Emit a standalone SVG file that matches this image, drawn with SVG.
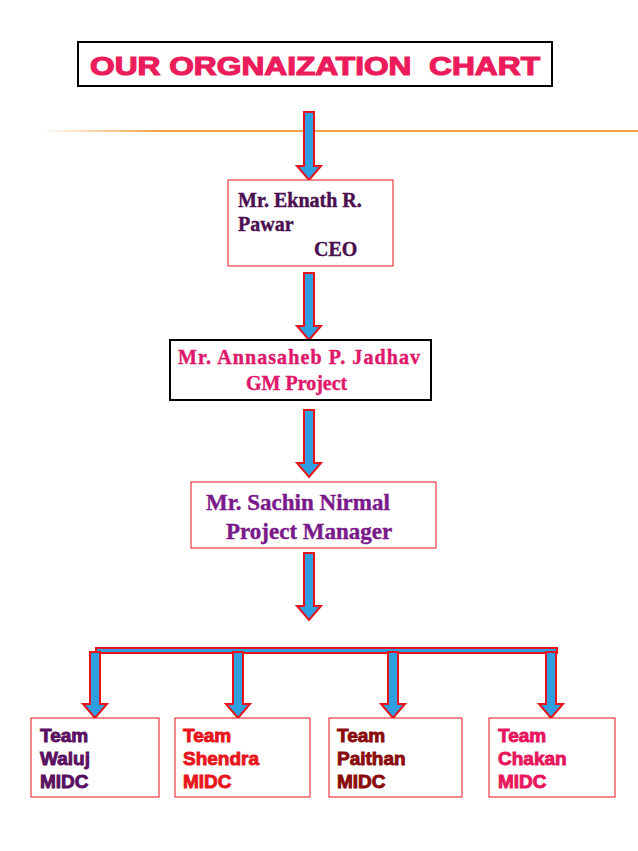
<svg xmlns="http://www.w3.org/2000/svg" width="638" height="851" viewBox="0 0 638 851">
<style>
.arr{fill:#2e9fe0;stroke:#e8141c;stroke-width:2;stroke-linejoin:miter}
.box{fill:#fff;stroke:#e8141c;stroke-width:1}
.n{font-family:"Liberation Serif",serif;font-weight:bold;font-size:20px;stroke-width:0.4}
.t{font-family:"Liberation Sans",Arial,sans-serif;font-weight:bold;font-size:19px;stroke-width:0.9}
</style>
<defs><linearGradient id="og" x1="0" x2="1"><stop offset="0" stop-color="#f4a340" stop-opacity="0"/><stop offset="0.2" stop-color="#f4a340"/><stop offset="1" stop-color="#f4a340"/></linearGradient></defs>
<rect width="638" height="851" fill="#fff"/>
<rect x="40" y="130" width="598" height="2" fill="url(#og)"/>
<g id="title"><rect x="78" y="42" width="474" height="44" fill="#fff" stroke="#000" stroke-width="2"/>
<text x="90" y="75" xml:space="preserve" textLength="450" lengthAdjust="spacingAndGlyphs" font-family="Liberation Sans,Arial,sans-serif" font-weight="bold" font-size="26" fill="#ec1c5c" stroke="#ec1c5c" stroke-width="1.2">OUR ORGNAIZATION  CHART</text></g>
<g id="connectors">
<path class="arr" d="M304,112H314V166H321L309,180L297,166H304Z"/>
<path class="arr" d="M304,273H314V326H321L309,340L297,326H304Z"/>
<path class="arr" d="M304,410H314V463H321L309,477L297,463H304Z"/>
<path class="arr" d="M304,553H314V606H321L309,620L297,606H304Z"/>
<rect x="96" y="648" width="461" height="5" fill="#2e9fe0" stroke="#e8141c" stroke-width="2"/>
<path class="arr" d="M90,652H100V704H107L95,718L83,704H90Z"/>
<path class="arr" d="M233,652H243V704H250L238,718L226,704H233Z"/>
<path class="arr" d="M388,652H398V704H405L393,718L381,704H388Z"/>
<path class="arr" d="M546,652H556V704H563L551,718L539,704H546Z"/>
</g>
<g id="ceo"><rect class="box" x="228" y="180" width="165" height="86"/>
<g class="n" fill="#4a1050" stroke="#4a1050"><text x="238" y="207">Mr. Eknath R.</text><text x="238" y="231">Pawar</text><text x="314" y="256">CEO</text></g></g>
<g id="gm"><rect x="170" y="340" width="261" height="60" fill="#fff" stroke="#000" stroke-width="2"/>
<g class="n" fill="#e0186c" stroke="#e0186c"><text x="178" y="364" textLength="242">Mr. Annasaheb P. Jadhav</text><text x="246" y="390">GM Project</text></g></g>
<g id="pm"><rect class="box" x="191" y="482" width="245" height="66"/>
<g class="n" fill="#7a1a8a" stroke="#7a1a8a"><text x="206" y="510" font-size="23">Mr. Sachin Nirmal</text><text x="226" y="539" font-size="23">Project Manager</text></g></g>
<g id="waluj"><rect class="box" x="31" y="718" width="128" height="79"/>
<g class="t" fill="#5a1060" stroke="#5a1060"><text x="40" y="742">Team</text><text x="40" y="765">Waluj</text><text x="40" y="788">MIDC</text></g></g>
<g id="shendra"><rect class="box" x="175" y="718" width="135" height="79"/>
<g class="t" fill="#e8141c" stroke="#e8141c"><text x="183" y="742">Team</text><text x="183" y="765">Shendra</text><text x="183" y="788">MIDC</text></g></g>
<g id="paithan"><rect class="box" x="329" y="718" width="133" height="79"/>
<g class="t" fill="#8a0a0a" stroke="#8a0a0a"><text x="337" y="742">Team</text><text x="337" y="765">Paithan</text><text x="337" y="788">MIDC</text></g></g>
<g id="chakan"><rect class="box" x="489" y="718" width="126" height="79"/>
<g class="t" fill="#e8145c" stroke="#e8145c"><text x="498" y="742">Team</text><text x="498" y="765">Chakan</text><text x="498" y="788">MIDC</text></g></g>
</svg>
